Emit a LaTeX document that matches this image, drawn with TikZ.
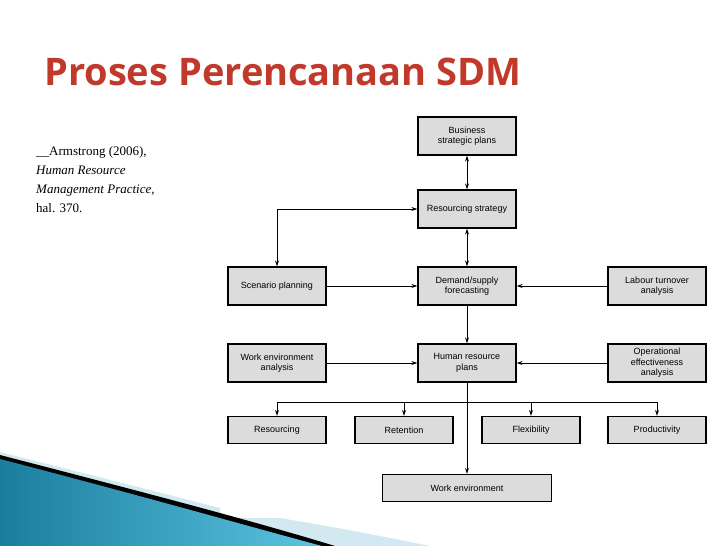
\documentclass[tikz,border=0pt]{standalone}
\usepackage{fontspec}
\setmainfont{Liberation Serif}
\newfontfamily\boxfont{Liberation Sans}
\newfontfamily\titlefont{Open Sans}
\usetikzlibrary{arrows.meta}
\definecolor{titlered}{HTML}{C0392B}
\definecolor{boxgray}{HTML}{DCDCDC}
\definecolor{paleblue}{HTML}{D2E9F1}
\definecolor{darkteal}{HTML}{1B7D9E}
\definecolor{lightteal}{HTML}{5CC3E0}
\tikzset{
  bx/.style={draw, line width=1.3pt, fill=boxgray, minimum width=98pt, minimum height=38pt, align=center, font=\boxfont\fontsize{9}{10.5}\selectfont, inner sep=1pt},
  sbx/.style={bx, minimum height=27pt},
  conn/.style={line width=0.9pt, -{Stealth[length=6pt,width=4pt]}},
  dconn/.style={line width=0.9pt, {Stealth[length=6pt,width=4pt]}-{Stealth[length=6pt,width=4pt]}}
}
\begin{document}
\begin{tikzpicture}[x=1pt,y=-1pt]
\useasboundingbox (0,0) rectangle (728,546);
% decorative swoosh
\fill[paleblue] (0,452) .. controls (150,490) .. (220,508) -- (220,518) -- (280,518) .. controls (350,530) .. (430,546) -- (0,546) -- cycle;
\fill[black] (0,455) .. controls (150,494) and (250,520) .. (335,546) -- (0,546) -- cycle;
\shade[left color=darkteal, right color=lightteal] (0,459) .. controls (150,498) and (240,524) .. (322,546) -- (0,546) -- cycle;
% title
\node[anchor=base west, inner sep=0, font=\titlefont\bfseries\fontsize{38}{42}\selectfont, text=titlered] (title) at (44,85) {Proses Perencanaan SDM};
% citation
\node[anchor=north west, align=left, inner sep=0, font=\fontsize{13}{19}\selectfont] (cite) at (36,146) {\_\_Armstrong (2006),\\\textit{Human Resource}\\\textit{Management Practice,}\\hal. 370.};
% boxes
\node[bx] (bsp) at (467,136) {Business\\strategic plans};
\node[bx] (rs) at (467,209) {Resourcing strategy};
\node[bx] (sp) at (277,286) {Scenario planning};
\node[bx] (dsf) at (467,286) {Demand/supply\\forecasting};
\node[bx] (lta) at (657,286) {Labour turnover\\analysis};
\node[bx] (wea) at (277,363) {Work environment\\analysis};
\node[bx] (hrp) at (467,363) {Human resource\\plans};
\node[bx] (oea) at (657,363) {Operational\\effectiveness\\analysis};
\node[sbx] (res) at (277,430) {Resourcing};
\node[sbx] (ret) at (404,430) {Retention};
\node[sbx] (flx) at (531,430) {Flexibility};
\node[sbx] (prd) at (657,430) {Productivity};
\node[sbx, minimum width=169pt] (we) at (467,488) {Work environment};
% connectors
\draw[dconn] (bsp) -- (rs);
\draw[dconn] (rs) -- (dsf);
\draw[dconn] (rs.west) -| (sp.north);
\draw[conn] (sp) -- (dsf);
\draw[conn] (lta) -- (dsf);
\draw[conn] (dsf) -- (hrp);
\draw[conn] (wea) -- (hrp);
\draw[conn] (oea) -- (hrp);
\draw[conn] (hrp.south) -- (we.north);
\coordinate (br) at (467,402);
\draw[line width=0.9pt] (res.north |- br) -- (prd.north |- br);
\draw[conn] (res.north |- br) -- (res.north);
\draw[conn] (ret.north |- br) -- (ret.north);
\draw[conn] (flx.north |- br) -- (flx.north);
\draw[conn] (prd.north |- br) -- (prd.north);
\end{tikzpicture}
\end{document}
